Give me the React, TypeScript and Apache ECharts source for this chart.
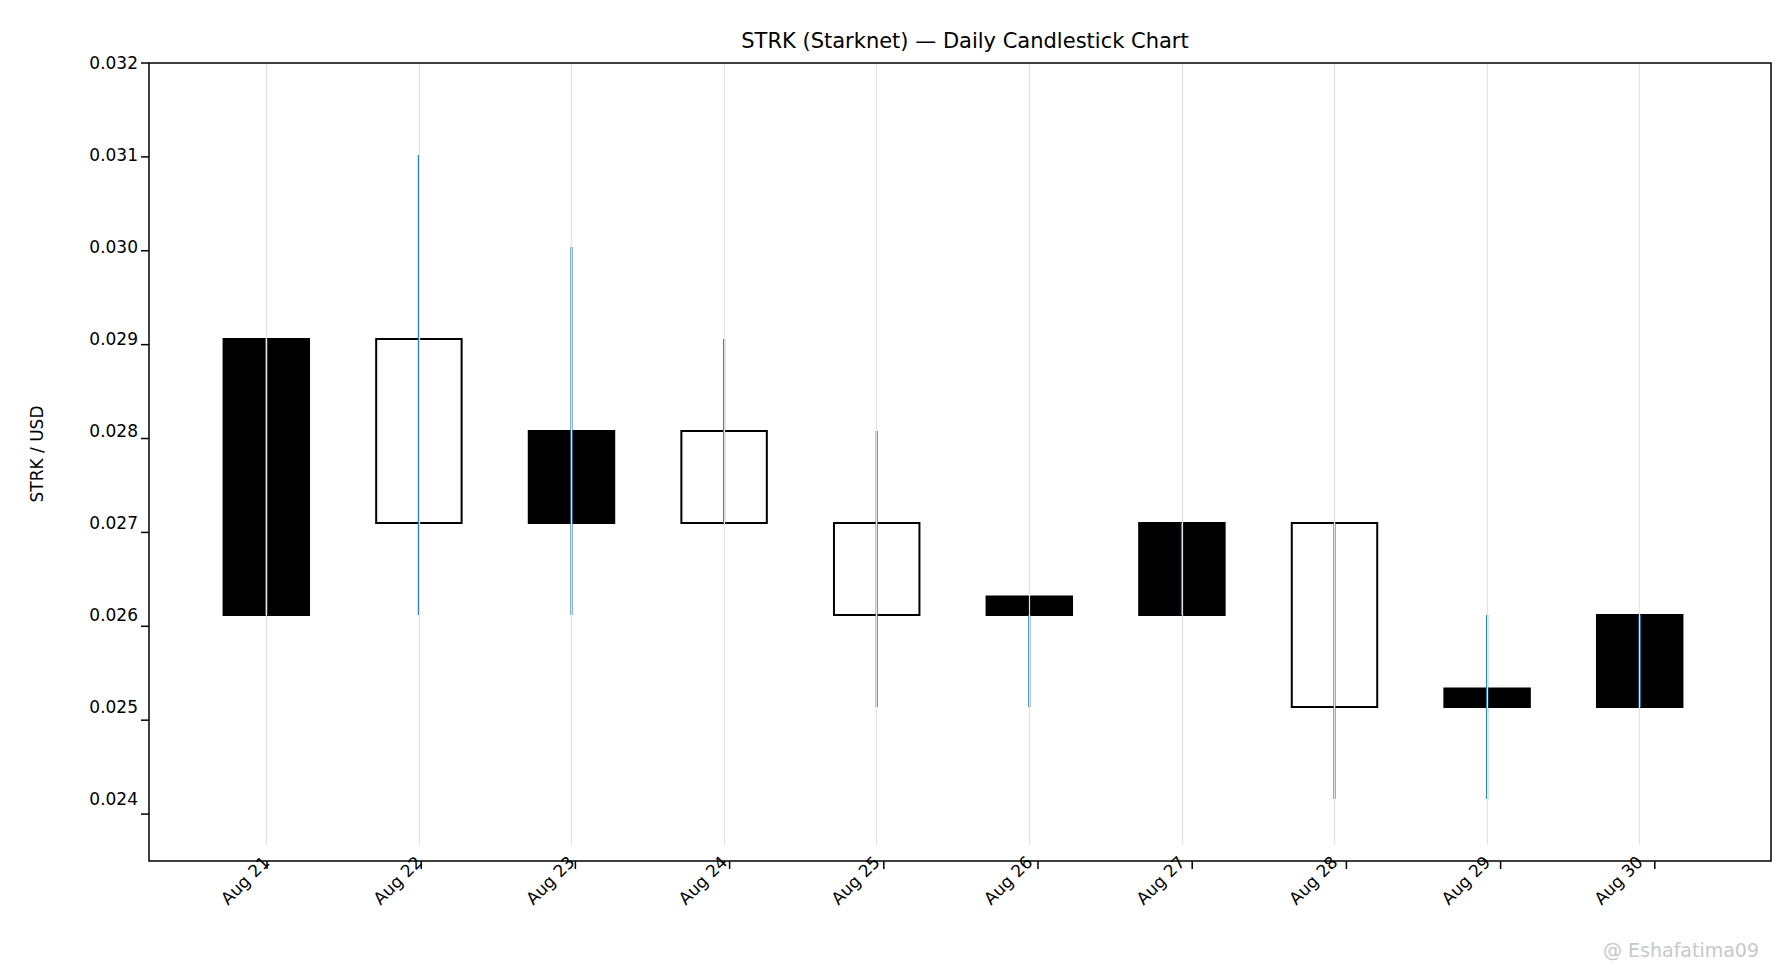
import React, { useEffect, useRef } from "react";
import * as echarts from "echarts";

const categories = ["Aug 21", "Aug 22", "Aug 23", "Aug 24", "Aug 25", "Aug 26", "Aug 27", "Aug 28", "Aug 29", "Aug 30"];
const opens = [0.029, 0.027, 0.028, 0.027, 0.026, 0.0262, 0.027, 0.025, 0.0252, 0.026];
const closes = [0.026, 0.029, 0.027, 0.028, 0.027, 0.026, 0.026, 0.027, 0.025, 0.025];
const highs = [0.029, 0.031, 0.030, 0.029, 0.028, 0.026, 0.027, 0.027, 0.026, 0.026];
const lows = [0.026, 0.026, 0.026, 0.027, 0.025, 0.025, 0.026, 0.024, 0.024, 0.025];
const yTicks = [0.024, 0.025, 0.026, 0.027, 0.028, 0.029, 0.03, 0.031, 0.032];

const FONT = "DejaVu Sans";

export default function App() {
  const ref = useRef<HTMLDivElement>(null);
  useEffect(() => {
    const chart = echarts.init(ref.current!, null, { renderer: "svg" });
    const data = categories.map((_, i) => [i, opens[i], closes[i], lows[i], highs[i]]);
    chart.setOption({
      animation: false,
      title: {
        text: "STRK (Starknet) — Daily Candlestick Chart",
        left: 952, top: 17, textAlign: "center",
        textStyle: { fontFamily: FONT, fontSize: 21, fontWeight: "normal", color: "#000" },
      },
      grid: { left: 182, right: 57, top: 55, bottom: 116 },
      xAxis: {
        type: "category",
        data: categories,
        axisLine: { show: false },
        axisTick: { show: false },
        splitLine: { show: false },
        axisLabel: { rotate: 45, fontFamily: FONT, fontSize: 17, color: "#000", margin: 14, interval: 0 },
      },
      yAxis: {
        type: "value",
        min: 0.0235, max: 0.032, interval: 0.0005,
        name: "STRK / USD", nameLocation: "middle", nameGap: 145,
        nameTextStyle: { fontFamily: FONT, fontSize: 17, color: "#000" },
        axisLine: { show: false }, axisTick: { show: false }, splitLine: { show: false },
        axisLabel: {
          fontFamily: FONT, fontSize: 17, color: "#000", margin: 52,
          formatter: (v: number) => {
            const r = Math.round(v * 10000);
            return r % 10 === 0 && v >= 0.02399 ? v.toFixed(3) : "";
          },
        },
      },
      series: [
        {
          type: "custom",
          data,
          encode: { x: 0, y: [1, 2, 3, 4] },
          markLine: {
            symbol: "none", silent: true, label: { show: false },
            lineStyle: { color: "#e3e3e3", type: "solid", width: 1.2 },
            data: [
              ...yTicks.map((v) => [{ coord: [-0.27, v] }, { coord: [9.77, v] }] as any),
              ...categories.map((c) => [{ coord: [c, 0.0235] }, { coord: [c, 0.032] }] as any),
            ],
          },
          renderItem: (params: any, api: any) => {
            const i = api.value(0);
            const o = api.value(1), c = api.value(2), l = api.value(3), h = api.value(4);
            const po = api.coord([i, o]);
            const pc = api.coord([i, c]);
            const pl = api.coord([i, l]);
            const ph = api.coord([i, h]);
            const w = api.size([1, 0])[0] * 0.56;
            const down = c < o;
            const top = Math.min(po[1], pc[1]);
            const hgt = Math.abs(po[1] - pc[1]);
            return {
              type: "group",
              children: [
                { type: "rect", shape: { x: po[0] - w / 2, y: top, width: w, height: hgt },
                  style: { fill: down ? "#000" : "#fff", stroke: "#000", lineWidth: 2 } },
                { type: "line", shape: { x1: pl[0], y1: pl[1], x2: ph[0], y2: ph[1] },
                  style: { stroke: "#1f77b4", lineWidth: 2.2 } },
              ],
            };
          },
        },
      ],
      graphic: [
        { type: "rect", shape: { x: 141, y: 55, width: 1622, height: 798 }, silent: true, z: 100,
          style: { fill: "none", stroke: "#000", lineWidth: 1.5 } },
        ...categories.map((_, i) => ({
          type: "line", shape: { x1: 259 + i * 154.2, y1: 853, x2: 259 + i * 154.2, y2: 861 },
          style: { stroke: "#000", lineWidth: 1.5 },
        })),
        ...yTicks.map((v) => {
          const y = 55 + (0.032 - v) / 0.0085 * 798;
          return { type: "line", shape: { x1: 133, y1: y, x2: 141, y2: y }, style: { stroke: "#000", lineWidth: 1.5 } };
        }),
        { type: "text", left: 1595, top: 932,
          style: { text: "@ Eshafatima09", fill: "#c8c8c8", font: `19px ${FONT}` } },
      ],
    });
    return () => chart.dispose();
  }, []);
  return <div ref={ref} style={{ width: 1765, height: 953 }} />;
}
